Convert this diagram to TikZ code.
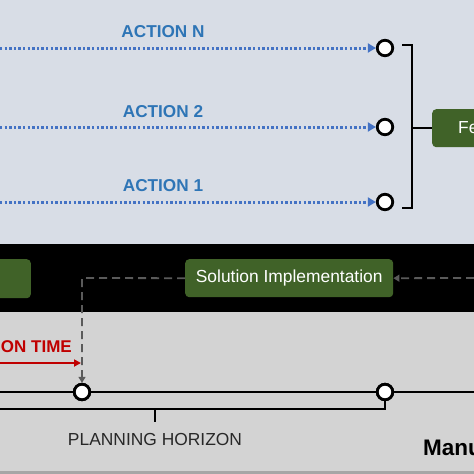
\documentclass[tikz,border=0pt]{standalone}
\usepackage{fontspec}
\setmainfont{Liberation Sans}
\usetikzlibrary{arrows.meta}
\definecolor{toppanel}{RGB}{216,221,230}
\definecolor{lowpanel}{RGB}{211,211,211}
\definecolor{bandgreen}{RGB}{64,98,40}
\definecolor{actblue}{RGB}{46,117,182}
\definecolor{dotblue}{RGB}{68,114,196}
\definecolor{timered}{RGB}{192,0,0}
\definecolor{dashgray}{RGB}{90,90,90}
\definecolor{textgray}{RGB}{40,40,40}
\tikzset{
  eventpt/.style={circle,draw=black,fill=white,line width=2.8pt,minimum size=15.5pt,inner sep=0pt},
  actlabel/.style={text=actblue,font=\fontsize{17.2}{20}\selectfont\bfseries,inner sep=0pt},
  actline/.style={draw=dotblue,line width=3pt,dash pattern=on 2.4pt off 2.2pt,-{Triangle[length=8pt,width=9pt,fill=dotblue]}},
  greenbox/.style={fill=bandgreen,rounded corners=4pt,text=white,font=\fontsize{17.4}{20}\selectfont,inner sep=0pt},
  dashconn/.style={draw=dashgray,line width=1.8pt,dash pattern=on 8pt off 5pt},
  bracketline/.style={draw=black,line width=2pt},
}
\begin{document}
\begin{tikzpicture}[x=1pt,y=-1pt]
\useasboundingbox (0,0) rectangle (474,474);
% panels
\fill[toppanel] (0,0) rectangle (474,244);
\fill[black] (0,244) rectangle (474,312);
\fill[lowpanel] (0,312) rectangle (474,471);
\fill[gray!70] (0,471) rectangle (474,474);
% top panel: actions
\node[eventpt] (pn) at (385,48) {};
\node[eventpt] (p2) at (385,127) {};
\node[eventpt] (p1) at (385,202) {};
\coordinate (sn) at (0,48);
\coordinate (s2) at (0,127);
\coordinate (s1) at (0,202);
\draw[actline] (sn) -- (pn.west);
\draw[actline] (s2) -- (p2.west);
\draw[actline] (s1) -- (p1.west);
\node[actlabel] (ln) at (163,32) {ACTION N};
\node[actlabel] (l2) at (163,112) {ACTION 2};
\node[actlabel] (l1) at (163,186) {ACTION 1};
% bracket
\coordinate (bt) at (402,45);
\coordinate (bb) at (402,208);
\node[greenbox,anchor=north west,minimum width=70pt,minimum height=38pt] (fe) at (432,109) {};
\node[text=white,font=\fontsize{17.4}{20}\selectfont,anchor=west,inner sep=0pt] (fetext) at (458,128) {Fe};
\draw[bracketline] (bt) -- ++(10,0) -- ++(0,163) -- (bb);
\coordinate (bm) at (412,127.5);
\draw[bracketline] (bm) -- (fe.west |- bm);
% black band
\node[greenbox,anchor=north east,minimum width=60pt,minimum height=39pt] (leftbox) at (31,259) {};
\node[greenbox,anchor=north west,minimum width=208pt,minimum height=38pt] (impl) at (185,259) {Solution Implementation};
\coordinate (rin) at (474,278);
\draw[dashconn,-{Triangle[length=6pt,width=7pt,fill=dashgray]}] (rin) -- (impl.east);
% lower panel: timeline
\node[eventpt] (t1) at (82,392) {};
\node[eventpt] (t2) at (385,392) {};
\coordinate (tl) at (0,392);
\coordinate (tr) at (474,392);
\draw[black,line width=2.8pt] (tl) -- (t1) -- (t2) -- (tr);
\node[eventpt] at (t1) {};
\node[eventpt] at (t2) {};
\draw[dashconn,-{Triangle[length=6pt,width=7pt,fill=dashgray]}] (impl.west) -- (82,278) -- (t1.north);
% red arrow and label
\coordinate (rs) at (0,363);
\coordinate (re) at (81,363);
\draw[timered,line width=1.8pt,-{Triangle[length=7pt,width=7pt]}] (rs) -- (re);
\node[text=timered,font=\fontsize{17}{20}\selectfont\bfseries,anchor=base east,inner sep=0pt] (ontime) at (72,352) {ON TIME};
% planning horizon bracket
\coordinate (hl) at (0,409);
\draw[black,line width=2pt] (hl) -- (385,409) -- (t2.south);
\coordinate (hm) at (155,409);
\coordinate (hmb) at (155,422);
\draw[black,line width=2pt] (hm) -- (hmb);
\node[text=textgray,font=\fontsize{17.4}{20}\selectfont,anchor=base,inner sep=0pt] (ph) at (155,445) {PLANNING HORIZON};
\node[text=black,font=\fontsize{22.5}{26}\selectfont\bfseries,anchor=base west,inner sep=0pt] (manu) at (423,455) {Manu};
\end{tikzpicture}
\end{document}
